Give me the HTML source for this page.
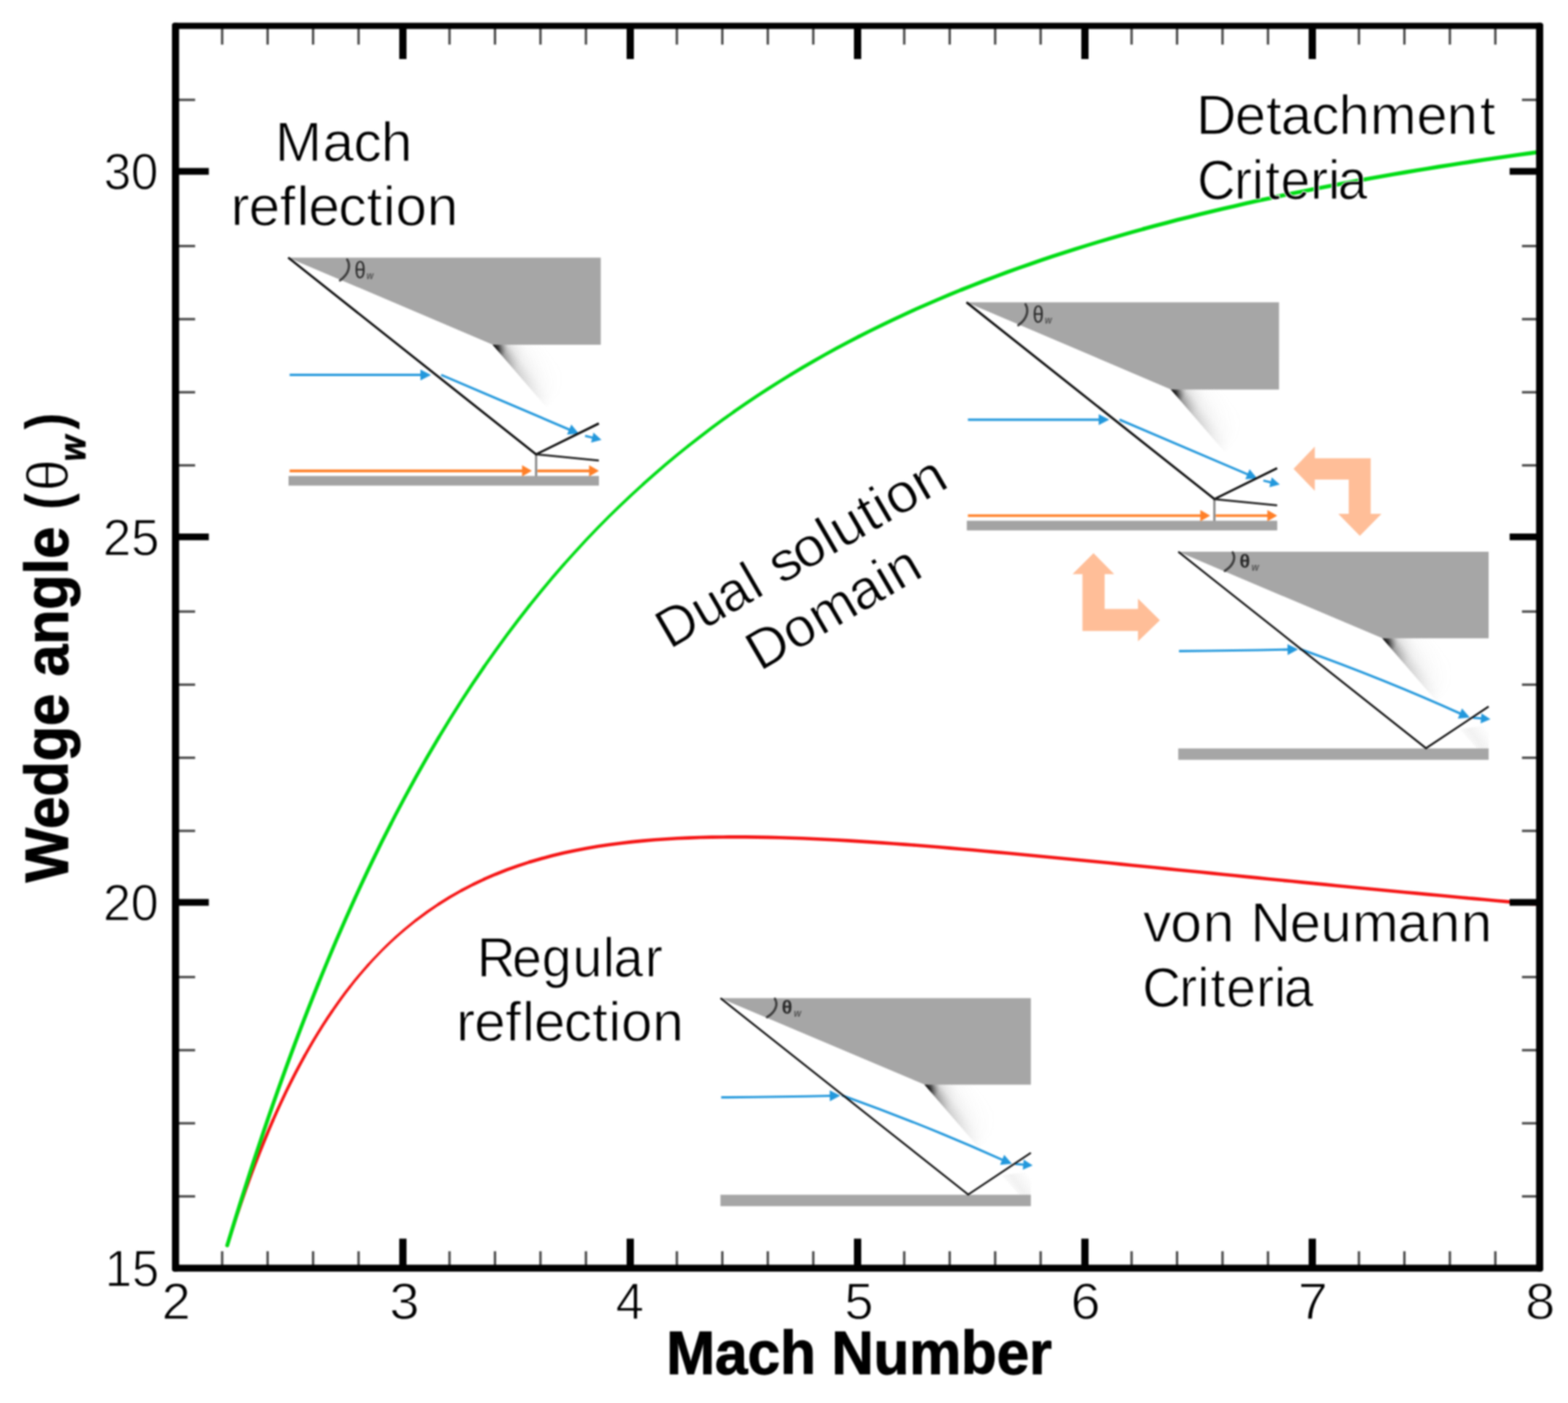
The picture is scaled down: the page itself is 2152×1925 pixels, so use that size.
<!DOCTYPE html>
<html lang="en">
<head>
<meta charset="utf-8">
<title>Shock reflection domains: wedge angle versus Mach number</title>
<style>
html,body{margin:0;padding:0;background:#fff;}
body{width:2152px;height:1925px;overflow:hidden;}
svg{display:block;font-family:'Liberation Sans', sans-serif;}
</style>
</head>
<body>
<svg width="2152" height="1925" viewBox="0 0 2152 1925">
<defs>
<filter id="soft" x="0" y="0" width="100%" height="100%" filterUnits="userSpaceOnUse" color-interpolation-filters="sRGB"><feGaussianBlur stdDeviation="0.8"/></filter>
<linearGradient id="fanA" gradientUnits="userSpaceOnUse" x1="0" y1="0" x2="40" y2="-35" gradientTransform="translate(281 119.6)">
<stop offset="0" stop-color="#111" stop-opacity="1"/><stop offset="0.1" stop-color="#222" stop-opacity="0.8"/><stop offset="0.3" stop-color="#555" stop-opacity="0.4"/><stop offset="0.6" stop-color="#888" stop-opacity="0.16"/><stop offset="1" stop-color="#999" stop-opacity="0"/>
</linearGradient>
<radialGradient id="fanR" gradientUnits="userSpaceOnUse" cx="281" cy="119.6" r="115">
<stop offset="0" stop-color="#fff"/><stop offset="0.07" stop-color="#fff"/><stop offset="0.18" stop-color="#777"/><stop offset="0.4" stop-color="#383838"/><stop offset="0.75" stop-color="#151515"/><stop offset="1" stop-color="#000"/>
</radialGradient>
<mask id="fanM" maskUnits="userSpaceOnUse" x="270" y="110" width="130" height="130"><rect x="270" y="110" width="130" height="130" fill="url(#fanR)"/></mask>
<linearGradient id="fanB" gradientUnits="userSpaceOnUse" x1="392" y1="262" x2="422" y2="240">
<stop offset="0" stop-color="#999" stop-opacity="0"/><stop offset="0.45" stop-color="#999" stop-opacity="0.13"/><stop offset="1" stop-color="#999" stop-opacity="0"/>
</linearGradient>
</defs>
<rect width="2152" height="1925" fill="#fff"/>
<g id="fig" filter="url(#soft)">
<g fill="none" stroke-linejoin="round" stroke-linecap="round">
<g stroke="#f51515"><polyline stroke-width="4.4" points="311.85,1708.87 318.09,1688.99 324.33,1669.79 330.57,1651.25 336.81,1633.33 343.05,1616.03 349.29,1599.32 355.53,1583.18 361.77,1567.59 368.01,1552.52 374.25,1537.97"/><polyline stroke-width="4.2" points="374.25,1537.97 380.49,1523.91 386.74,1510.33 392.98,1497.21 399.22,1484.53 405.46,1472.28 411.7,1460.45 417.94,1449.01"/><polyline stroke-width="4" points="417.94,1449.01 424.18,1437.96 430.42,1427.28 436.66,1416.96 442.9,1406.99 449.14,1397.36 455.38,1388.05"/><polyline stroke-width="3.8" points="455.38,1388.05 461.62,1379.05 467.86,1370.36 474.1,1361.96 480.35,1353.84"/><polyline stroke-width="3.6" points="480.35,1353.84 486.59,1345.99 492.83,1338.41 499.07,1331.09 505.31,1324.01"/><polyline stroke-width="3.4" points="505.31,1324.01 511.55,1317.17 517.79,1310.56 524.03,1304.17 530.27,1298 536.51,1292.04 542.75,1286.28"/><polyline stroke-width="3.6" points="542.75,1286.28 548.99,1280.72 555.23,1275.35 570.83,1262.7"/><polyline stroke-width="3.8" points="570.83,1262.7 586.44,1251.11 602.04,1240.49"/><polyline stroke-width="4" points="602.04,1240.49 617.64,1230.77 633.24,1221.88"/><polyline stroke-width="4.2" points="633.24,1221.88 648.84,1213.75 664.44,1206.34"/><polyline stroke-width="4.4" points="664.44,1206.34 680.05,1199.58 695.65,1193.42 711.25,1187.83 726.85,1182.76"/><polyline stroke-width="4.6" points="726.85,1182.76 742.45,1178.17 758.05,1174.02 773.66,1170.29 789.26,1166.95 804.86,1163.97 820.46,1161.32 836.06,1158.97 851.66,1156.92 867.27,1155.13 882.87,1153.59 898.47,1152.28 914.07,1151.18 929.67,1150.29 945.27,1149.58 960.88,1149.04 976.48,1148.67 992.08,1148.44 1007.68,1148.36 1023.28,1148.41 1038.88,1148.58 1054.49,1148.86 1070.09,1149.24 1085.69,1149.73 1101.29,1150.3 1116.89,1150.96 1132.49,1151.7 1148.1,1152.51 1163.7,1153.39 1179.3,1154.33 1194.9,1155.33 1210.5,1156.38 1226.11,1157.48 1241.71,1158.63 1257.31,1159.82 1272.91,1161.05 1288.51,1162.32 1304.11,1163.62 1319.71,1164.95 1335.32,1166.31 1350.92,1167.7 1366.52,1169.11 1382.12,1170.54 1397.72,1171.99 1413.33,1173.46 1428.93,1174.94 1444.53,1176.44 1460.13,1177.94 1475.73,1179.47 1491.33,1181 1506.93,1182.53 1522.54,1184.08 1538.14,1185.63 1553.74,1187.19 1569.34,1188.75 1584.94,1190.31 1600.54,1191.88 1616.15,1193.45 1631.75,1195.02 1647.35,1196.58 1662.95,1198.15 1678.55,1199.72 1694.15,1201.28 1709.76,1202.84 1725.36,1204.4 1740.96,1205.96 1756.56,1207.51 1772.16,1209.05 1787.76,1210.59 1803.37,1212.13 1818.97,1213.66 1834.57,1215.18 1850.17,1216.7 1865.77,1218.21 1881.37,1219.71 1896.98,1221.21 1912.58,1222.7 1928.18,1224.18 1943.78,1225.66 1959.38,1227.12 1974.98,1228.58 1990.59,1230.03 2006.19,1231.47 2021.79,1232.91 2037.39,1234.33 2052.99,1235.75 2068.6,1237.15 2084.2,1238.55 2099.8,1239.94 2115.4,1241.32"/></g>
<g stroke="#00dc14"><polyline stroke-width="5.2" points="311.85,1708.7 318.09,1688.22 324.33,1668.03 330.57,1648.12 336.81,1628.48 343.05,1609.13 349.29,1590.04 355.53,1571.23 361.77,1552.69 368.01,1534.41 374.25,1516.39 380.49,1498.64 386.74,1481.14 392.98,1463.89 399.22,1446.9 405.46,1430.16 411.7,1413.66 417.94,1397.4 424.18,1381.38 430.42,1365.6 436.66,1350.05"/><polyline stroke-width="5" points="436.66,1350.05 442.9,1334.72 449.14,1319.63 455.38,1304.76 461.62,1290.1 467.86,1275.67 474.1,1261.45 480.35,1247.43 486.59,1233.63 492.83,1220.03 499.07,1206.63 505.31,1193.43 511.55,1180.42 517.79,1167.61 524.03,1154.98 530.27,1142.54 536.51,1130.28"/><polyline stroke-width="4.8" points="536.51,1130.28 542.75,1118.21 548.99,1106.31 555.23,1094.58 570.83,1066.01 586.44,1038.48 602.04,1011.93"/><polyline stroke-width="4.6" points="602.04,1011.93 617.64,986.33 633.24,961.64 648.84,937.82 664.44,914.84"/><polyline stroke-width="4.4" points="664.44,914.84 680.05,892.67 695.65,871.26 711.25,850.59 726.85,830.63"/><polyline stroke-width="4.2" points="726.85,830.63 742.45,811.35 758.05,792.72 773.66,774.71"/><polyline stroke-width="4" points="773.66,774.71 789.26,757.31 804.86,740.48 820.46,724.2 836.06,708.45 851.66,693.21 867.27,678.45 882.87,664.17"/><polyline stroke-width="4.2" points="882.87,664.17 898.47,650.33 914.07,636.93 929.67,623.95 945.27,611.36"/><polyline stroke-width="4.4" points="945.27,611.36 960.88,599.16 976.48,587.33 992.08,575.85 1007.68,564.72"/><polyline stroke-width="4.6" points="1007.68,564.72 1023.28,553.91 1038.88,543.42 1054.49,533.24 1070.09,523.35 1085.69,513.74"/><polyline stroke-width="4.8" points="1085.69,513.74 1101.29,504.41 1116.89,495.33 1132.49,486.52 1148.1,477.94 1163.7,469.61 1179.3,461.5"/><polyline stroke-width="5" points="1179.3,461.5 1194.9,453.61 1210.5,445.93 1226.11,438.45 1241.71,431.18 1257.31,424.09 1272.91,417.19 1288.51,410.46 1304.11,403.91 1319.71,397.53"/><polyline stroke-width="5.2" points="1319.71,397.53 1335.32,391.31 1350.92,385.24 1366.52,379.32 1382.12,373.55 1397.72,367.92 1413.33,362.43 1428.93,357.07 1444.53,351.84 1460.13,346.74 1475.73,341.75 1491.33,336.88 1506.93,332.12 1522.54,327.48 1538.14,322.94 1553.74,318.5 1569.34,314.17"/><polyline stroke-width="5.4" points="1569.34,314.17 1584.94,309.93 1600.54,305.79 1616.15,301.73 1631.75,297.77 1647.35,293.9 1662.95,290.1 1678.55,286.39 1694.15,282.76 1709.76,279.21 1725.36,275.73 1740.96,272.33 1756.56,268.99 1772.16,265.73 1787.76,262.53 1803.37,259.39 1818.97,256.33 1834.57,253.32 1850.17,250.37 1865.77,247.48 1881.37,244.65 1896.98,241.88 1912.58,239.16 1928.18,236.49 1943.78,233.87 1959.38,231.31 1974.98,228.79 1990.59,226.32 2006.19,223.9 2021.79,221.52 2037.39,219.19 2052.99,216.9 2068.6,214.65 2084.2,212.44 2099.8,210.28 2115.4,208.15"/></g>
</g>
<g transform="translate(395.5 353.4)">
<polygon points="280,119.1 376,119.1 376,224.6 371,224.6" fill="url(#fanA)" mask="url(#fanM)"/>
<polygon fill="#a6a6a6" points="0,0 429,0 429,119.6 281,119.6"/>
<path d="M81 2.7 C85 9 85.5 21 71.2 31.4" fill="none" stroke="#3c3c3c" stroke-width="3.2" stroke-linecap="round"/>
<rect x="0.5" y="299.7" width="426" height="13.2" fill="#a3a3a3"/>
<line x1="2" y1="292.7" x2="322" y2="292.7" stroke="#ff7f27" stroke-width="3.6"/><polygon fill="#ff7f27" points="334.5,292.7 321,300.45 321,284.95"/>
<line x1="342" y1="292.7" x2="414" y2="292.7" stroke="#ff7f27" stroke-width="3.6"/><polygon fill="#ff7f27" points="426.5,292.7 413,300.45 413,284.95"/>
<line x1="340.3" y1="270" x2="340.3" y2="300" stroke="#858585" stroke-width="3"/>
<line x1="2" y1="161" x2="182.5" y2="161" stroke="#2398dc" stroke-width="3.2"/><polygon fill="#2398dc" points="196,161 181.5,168.5 181.5,153.5"/>
<line x1="210" y1="161" x2="386.58" y2="236.3" stroke="#2398dc" stroke-width="3.2"/><polygon fill="#2398dc" points="399,241.6 382.72,242.81 388.6,229.01"/>
<line x1="407.5" y1="244.6" x2="418.33" y2="247.2" stroke="#2398dc" stroke-width="3"/><polygon fill="#2398dc" points="430,250 415.73,253.77 418.99,240.16"/>
<g stroke="#0c0c0c" stroke-width="3.1" fill="none" stroke-linecap="butt" stroke-linejoin="miter">
<polyline points="0,0 340.3,270 426.4,227.6"/>
<line x1="340.3" y1="270" x2="426.4" y2="278.5" stroke-width="2.7" stroke="#222"/>
</g>
</g>
<g transform="translate(1326.4 414.8)">
<polygon points="280,119.1 376,119.1 376,224.6 371,224.6" fill="url(#fanA)" mask="url(#fanM)"/>
<polygon fill="#a6a6a6" points="0,0 429,0 429,119.6 281,119.6"/>
<path d="M81 2.7 C85 9 85.5 21 71.2 31.4" fill="none" stroke="#3c3c3c" stroke-width="3.2" stroke-linecap="round"/>
<rect x="0.5" y="299.7" width="426" height="13.2" fill="#a3a3a3"/>
<line x1="2" y1="292.7" x2="322" y2="292.7" stroke="#ff7f27" stroke-width="3.6"/><polygon fill="#ff7f27" points="334.5,292.7 321,300.45 321,284.95"/>
<line x1="342" y1="292.7" x2="414" y2="292.7" stroke="#ff7f27" stroke-width="3.6"/><polygon fill="#ff7f27" points="426.5,292.7 413,300.45 413,284.95"/>
<line x1="340.3" y1="270" x2="340.3" y2="300" stroke="#858585" stroke-width="3"/>
<line x1="2" y1="161" x2="182.5" y2="161" stroke="#2398dc" stroke-width="3.2"/><polygon fill="#2398dc" points="196,161 181.5,168.5 181.5,153.5"/>
<line x1="210" y1="161" x2="386.58" y2="236.3" stroke="#2398dc" stroke-width="3.2"/><polygon fill="#2398dc" points="399,241.6 382.72,242.81 388.6,229.01"/>
<line x1="407.5" y1="244.6" x2="418.33" y2="247.2" stroke="#2398dc" stroke-width="3"/><polygon fill="#2398dc" points="430,250 415.73,253.77 418.99,240.16"/>
<g stroke="#0c0c0c" stroke-width="3.1" fill="none" stroke-linecap="butt" stroke-linejoin="miter">
<polyline points="0,0 340.3,270 426.4,227.6"/>
<line x1="340.3" y1="270" x2="426.4" y2="278.5" stroke-width="2.7" stroke="#222"/>
</g>
</g>
<g transform="translate(1617.1 757.1)">
<polygon points="386,243 426,238 426,269.8 410,269.8" fill="url(#fanB)"/>
<polygon points="279.5,118.2 375.5,118.2 375.5,223.7 370.5,223.7" fill="url(#fanA)" mask="url(#fanM)"/>
<polygon fill="#a6a6a6" points="0,0 426,0 426,118.7 280.5,118.7"/>
<path d="M74.7 0.8 C78.2 6.5 78.5 17 63.9 26.2" fill="none" stroke="#3c3c3c" stroke-width="3.2" stroke-linecap="round"/>
<rect x="0" y="269.8" width="426" height="15.6" fill="#a6a6a6"/>
<path d="M1 136.2 Q 80 135.5 152 134" fill="none" stroke="#2398dc" stroke-width="3.2"/>
<polygon fill="#2398dc" points="164.5,133.8 150.12,141.54 149.88,126.54"/>
<path d="M166.5 133.2 Q 285 175.8 388 222.4" fill="none" stroke="#2398dc" stroke-width="3.2"/>
<polygon fill="#2398dc" points="400,227.3 383.75,228.81 389.38,214.91"/>
<line x1="404.5" y1="227.6" x2="416.54" y2="228.6" stroke="#2398dc" stroke-width="3"/><polygon fill="#2398dc" points="428.5,229.6 414.96,235.5 416.13,221.54"/>
<polyline points="0,0 340,269.5 426,212.3" stroke="#0c0c0c" stroke-width="2.5" fill="none"/>
</g>
<g transform="translate(988.8 1369.5)">
<polygon points="386,243 426,238 426,269.8 410,269.8" fill="url(#fanB)"/>
<polygon points="279.5,118.2 375.5,118.2 375.5,223.7 370.5,223.7" fill="url(#fanA)" mask="url(#fanM)"/>
<polygon fill="#a6a6a6" points="0,0 426,0 426,118.7 280.5,118.7"/>
<path d="M74.7 0.8 C78.2 6.5 78.5 17 63.9 26.2" fill="none" stroke="#3c3c3c" stroke-width="3.2" stroke-linecap="round"/>
<rect x="0" y="269.8" width="426" height="15.6" fill="#a6a6a6"/>
<path d="M1 136.2 Q 80 135.5 152 134" fill="none" stroke="#2398dc" stroke-width="3.2"/>
<polygon fill="#2398dc" points="164.5,133.8 150.12,141.54 149.88,126.54"/>
<path d="M166.5 133.2 Q 285 175.8 388 222.4" fill="none" stroke="#2398dc" stroke-width="3.2"/>
<polygon fill="#2398dc" points="400,227.3 383.75,228.81 389.38,214.91"/>
<line x1="404.5" y1="227.6" x2="416.54" y2="228.6" stroke="#2398dc" stroke-width="3"/><polygon fill="#2398dc" points="428.5,229.6 414.96,235.5 416.13,221.54"/>
<polyline points="0,0 340,269.5 426,212.3" stroke="#0c0c0c" stroke-width="2.5" fill="none"/>
</g>
<polygon fill="#ffbe98" points="1775.3,643.3 1804.5,612.8 1804.5,628.7 1881.2,628.7 1881.2,705.1 1896,705.1 1866.3,735.2 1836.7,705.1 1851.1,705.1 1851.1,658.1 1804.5,658.1 1804.5,673.4"/>
<polygon fill="#ffbe98" points="1500.8,759 1529.2,787.8 1516.1,787.8 1516.1,835.6 1561.8,835.6 1561.8,821.2 1591.9,850.9 1561.8,880.1 1561.8,865.7 1485.6,865.7 1485.6,787.8 1472,787.8"/>
<g stroke="#4a4a4a" stroke-width="3.3">
<line x1="304.91" y1="38.5" x2="304.91" y2="61.2"/>
<line x1="304.91" y1="1737" x2="304.91" y2="1716.8"/>
<line x1="367.31" y1="38.5" x2="367.31" y2="61.2"/>
<line x1="367.31" y1="1737" x2="367.31" y2="1716.8"/>
<line x1="429.72" y1="38.5" x2="429.72" y2="61.2"/>
<line x1="429.72" y1="1737" x2="429.72" y2="1716.8"/>
<line x1="492.13" y1="38.5" x2="492.13" y2="61.2"/>
<line x1="492.13" y1="1737" x2="492.13" y2="1716.8"/>
<line x1="616.94" y1="38.5" x2="616.94" y2="61.2"/>
<line x1="616.94" y1="1737" x2="616.94" y2="1716.8"/>
<line x1="679.35" y1="38.5" x2="679.35" y2="61.2"/>
<line x1="679.35" y1="1737" x2="679.35" y2="1716.8"/>
<line x1="741.75" y1="38.5" x2="741.75" y2="61.2"/>
<line x1="741.75" y1="1737" x2="741.75" y2="1716.8"/>
<line x1="804.16" y1="38.5" x2="804.16" y2="61.2"/>
<line x1="804.16" y1="1737" x2="804.16" y2="1716.8"/>
<line x1="928.97" y1="38.5" x2="928.97" y2="61.2"/>
<line x1="928.97" y1="1737" x2="928.97" y2="1716.8"/>
<line x1="991.38" y1="38.5" x2="991.38" y2="61.2"/>
<line x1="991.38" y1="1737" x2="991.38" y2="1716.8"/>
<line x1="1053.79" y1="38.5" x2="1053.79" y2="61.2"/>
<line x1="1053.79" y1="1737" x2="1053.79" y2="1716.8"/>
<line x1="1116.19" y1="38.5" x2="1116.19" y2="61.2"/>
<line x1="1116.19" y1="1737" x2="1116.19" y2="1716.8"/>
<line x1="1241.01" y1="38.5" x2="1241.01" y2="61.2"/>
<line x1="1241.01" y1="1737" x2="1241.01" y2="1716.8"/>
<line x1="1303.41" y1="38.5" x2="1303.41" y2="61.2"/>
<line x1="1303.41" y1="1737" x2="1303.41" y2="1716.8"/>
<line x1="1365.82" y1="38.5" x2="1365.82" y2="61.2"/>
<line x1="1365.82" y1="1737" x2="1365.82" y2="1716.8"/>
<line x1="1428.23" y1="38.5" x2="1428.23" y2="61.2"/>
<line x1="1428.23" y1="1737" x2="1428.23" y2="1716.8"/>
<line x1="1553.04" y1="38.5" x2="1553.04" y2="61.2"/>
<line x1="1553.04" y1="1737" x2="1553.04" y2="1716.8"/>
<line x1="1615.45" y1="38.5" x2="1615.45" y2="61.2"/>
<line x1="1615.45" y1="1737" x2="1615.45" y2="1716.8"/>
<line x1="1677.85" y1="38.5" x2="1677.85" y2="61.2"/>
<line x1="1677.85" y1="1737" x2="1677.85" y2="1716.8"/>
<line x1="1740.26" y1="38.5" x2="1740.26" y2="61.2"/>
<line x1="1740.26" y1="1737" x2="1740.26" y2="1716.8"/>
<line x1="1865.07" y1="38.5" x2="1865.07" y2="61.2"/>
<line x1="1865.07" y1="1737" x2="1865.07" y2="1716.8"/>
<line x1="1927.48" y1="38.5" x2="1927.48" y2="61.2"/>
<line x1="1927.48" y1="1737" x2="1927.48" y2="1716.8"/>
<line x1="1989.89" y1="38.5" x2="1989.89" y2="61.2"/>
<line x1="1989.89" y1="1737" x2="1989.89" y2="1716.8"/>
<line x1="2052.29" y1="38.5" x2="2052.29" y2="61.2"/>
<line x1="2052.29" y1="1737" x2="2052.29" y2="1716.8"/>
<line x1="243.9" y1="1641.5" x2="267.8" y2="1641.5"/>
<line x1="2110.1" y1="1641.5" x2="2088.8" y2="1641.5"/>
<line x1="243.9" y1="1541.2" x2="267.8" y2="1541.2"/>
<line x1="2110.1" y1="1541.2" x2="2088.8" y2="1541.2"/>
<line x1="243.9" y1="1440.9" x2="267.8" y2="1440.9"/>
<line x1="2110.1" y1="1440.9" x2="2088.8" y2="1440.9"/>
<line x1="243.9" y1="1340.6" x2="267.8" y2="1340.6"/>
<line x1="2110.1" y1="1340.6" x2="2088.8" y2="1340.6"/>
<line x1="243.9" y1="1140" x2="267.8" y2="1140"/>
<line x1="2110.1" y1="1140" x2="2088.8" y2="1140"/>
<line x1="243.9" y1="1039.7" x2="267.8" y2="1039.7"/>
<line x1="2110.1" y1="1039.7" x2="2088.8" y2="1039.7"/>
<line x1="243.9" y1="939.4" x2="267.8" y2="939.4"/>
<line x1="2110.1" y1="939.4" x2="2088.8" y2="939.4"/>
<line x1="243.9" y1="839.1" x2="267.8" y2="839.1"/>
<line x1="2110.1" y1="839.1" x2="2088.8" y2="839.1"/>
<line x1="243.9" y1="638.5" x2="267.8" y2="638.5"/>
<line x1="2110.1" y1="638.5" x2="2088.8" y2="638.5"/>
<line x1="243.9" y1="538.2" x2="267.8" y2="538.2"/>
<line x1="2110.1" y1="538.2" x2="2088.8" y2="538.2"/>
<line x1="243.9" y1="437.9" x2="267.8" y2="437.9"/>
<line x1="2110.1" y1="437.9" x2="2088.8" y2="437.9"/>
<line x1="243.9" y1="337.6" x2="267.8" y2="337.6"/>
<line x1="2110.1" y1="337.6" x2="2088.8" y2="337.6"/>
<line x1="243.9" y1="137" x2="267.8" y2="137"/>
<line x1="2110.1" y1="137" x2="2088.8" y2="137"/>
</g>
<g stroke="#000" stroke-width="10">
<line x1="552.93" y1="35.5" x2="552.93" y2="81"/>
<line x1="552.93" y1="1740" x2="552.93" y2="1699.5"/>
<line x1="864.97" y1="35.5" x2="864.97" y2="81"/>
<line x1="864.97" y1="1740" x2="864.97" y2="1699.5"/>
<line x1="1177" y1="35.5" x2="1177" y2="81"/>
<line x1="1177" y1="1740" x2="1177" y2="1699.5"/>
<line x1="1489.03" y1="35.5" x2="1489.03" y2="81"/>
<line x1="1489.03" y1="1740" x2="1489.03" y2="1699.5"/>
<line x1="1801.07" y1="35.5" x2="1801.07" y2="81"/>
<line x1="1801.07" y1="1740" x2="1801.07" y2="1699.5"/>
</g>
<g stroke="#000" stroke-width="9.2">
<line x1="240.9" y1="1238.1" x2="286.6" y2="1238.1"/>
<line x1="2113.1" y1="1238.1" x2="2071.9" y2="1238.1"/>
<line x1="240.9" y1="736.6" x2="286.6" y2="736.6"/>
<line x1="2113.1" y1="736.6" x2="2071.9" y2="736.6"/>
<line x1="240.9" y1="235.1" x2="286.6" y2="235.1"/>
<line x1="2113.1" y1="235.1" x2="2071.9" y2="235.1"/>
</g>
<g fill="#000">
<rect x="236" y="31.3" width="1882" height="8.4" rx="4"/>
<rect x="236" y="1735.3" width="1882" height="9.4" rx="4"/>
<rect x="236" y="31.3" width="9.8" height="1713.4" rx="4"/>
<rect x="2108.2" y="31.3" width="9.8" height="1713.4" rx="4"/>
</g>
<g id="labels" fill="#000">
<text transform="translate(142.43 260.1) scale(0.9617 1)" font-size="70" stroke="#fff" stroke-width="1.3" stroke-linejoin="round">30</text>
<text transform="translate(141.36 761.6) scale(0.9954 1)" font-size="70" stroke="#fff" stroke-width="1.3" stroke-linejoin="round">25</text>
<text transform="translate(141.41 1263.1) scale(0.9804 1)" font-size="70" stroke="#fff" stroke-width="1.3" stroke-linejoin="round">20</text>
<text transform="translate(144.09 1764.6) scale(0.9524 1)" font-size="70" stroke="#fff" stroke-width="1.3" stroke-linejoin="round">15</text>
<text transform="translate(222 1809.8) scale(1.0182 1)" font-size="70" stroke="#fff" stroke-width="1.3" stroke-linejoin="round">2</text>
<text transform="translate(534.53 1809.8) scale(1.0588 1)" font-size="70" stroke="#fff" stroke-width="1.3" stroke-linejoin="round">3</text>
<text transform="translate(845.05 1809.8) scale(0.9972 1)" font-size="70" stroke="#fff" stroke-width="1.3" stroke-linejoin="round">4</text>
<text transform="translate(1158.91 1809.8) scale(1.0206 1)" font-size="70" stroke="#fff" stroke-width="1.3" stroke-linejoin="round">5</text>
<text transform="translate(1469.45 1809.8) scale(1.0455 1)" font-size="70" stroke="#fff" stroke-width="1.3" stroke-linejoin="round">6</text>
<text transform="translate(1781.48 1809.8) scale(1.0455 1)" font-size="70" stroke="#fff" stroke-width="1.3" stroke-linejoin="round">7</text>
<text transform="translate(2093.18 1809.8) scale(1.0576 1)" font-size="70" stroke="#fff" stroke-width="1.3" stroke-linejoin="round">8</text>
<text transform="translate(914.44 1885) scale(0.9620 1)" font-size="83.5" font-weight="bold" stroke="#000" stroke-width="1.3" stroke-linejoin="miter">Mach</text>
<text transform="translate(1141.26 1885) scale(0.9584 1)" font-size="83.5" font-weight="bold" stroke="#000" stroke-width="1.3" stroke-linejoin="miter">Number</text>
<text transform="translate(0 221.4) scale(1.0132 1)" x="372.64 437 479.03 516.21" font-size="76" stroke="#fff" stroke-width="1.1" stroke-linejoin="round">Mach</text>
<text transform="translate(0 309.3) scale(1.0123 1)" x="312.83 337.41 379.29 402.29 418.41 458.78 497.09 519.31 536.43 578.94" font-size="76" stroke="#fff" stroke-width="1.1" stroke-linejoin="round">reflection</text>
<text transform="translate(0 184.1) scale(1.0021 1)" x="1638.27 1691.45 1734.12 1754.25 1796.36 1833.74 1876.62 1940.13 1981.5 2026.92" font-size="76" stroke="#fff" stroke-width="1.1" stroke-linejoin="round">Detachment</text>
<text transform="translate(0 272.9) scale(0.9520 1)" x="1726.2 1779.33 1804.97 1823.93 1846.39 1889.21 1914.85 1928.86" font-size="76" stroke="#fff" stroke-width="1.1" stroke-linejoin="round">Criteria</text>
<text transform="translate(0 1339.6) scale(0.9575 1)" x="683.76 734.18 776.64 820.9 864.32 879.71 924.6" font-size="76" stroke="#fff" stroke-width="1.1" stroke-linejoin="round">Regular</text>
<text transform="translate(0 1428) scale(1.0123 1)" x="618.56 643.14 685.01 708.02 724.14 764.51 802.82 825.04 842.16 884.67" font-size="76" stroke="#fff" stroke-width="1.1" stroke-linejoin="round">reflection</text>
<text transform="translate(0 1291.6) scale(1.0231 1)" x="1533.23 1570.09 1613.49" font-size="76" stroke="#fff" stroke-width="1.1" stroke-linejoin="round">von</text>
<text transform="translate(0 1291.6) scale(1.0051 1)" x="1707.77 1761.31 1803.34 1846.27 1908.52 1951.67 1995.03" font-size="76" stroke="#fff" stroke-width="1.1" stroke-linejoin="round">Neumann</text>
<text transform="translate(0 1380.5) scale(0.9582 1)" x="1636.35 1689.48 1715.12 1734.08 1756.55 1799.36 1825 1839.01" font-size="76" stroke="#fff" stroke-width="1.1" stroke-linejoin="round">Criteria</text>
<text transform="translate(924.9 888.2) rotate(-30.2) translate(0 0) scale(0.9806 1)" x="-6.56 48.56 89.36 132.86" font-size="76" stroke="#fff" stroke-width="1.1" stroke-linejoin="round">Dual</text>
<text transform="translate(924.9 888.2) rotate(-30.2) translate(0 0) scale(1.0290 1)" x="165.59 199.8 242.58 259.79 303.38 325.61 342.75 385.28" font-size="76" stroke="#fff" stroke-width="1.1" stroke-linejoin="round">solution</text>
<text transform="translate(1048.7 918.4) rotate(-30.2) translate(0 0) scale(1.0019 1)" x="-6.55 47.62 90.63 152.72 195.73 213.06" font-size="76" stroke="#fff" stroke-width="1.1" stroke-linejoin="round">Domain</text>
<text transform="translate(93.1 1211.4) rotate(-90) translate(0.65 0) scale(0.9509 1)" font-size="83.5" font-weight="bold" stroke="#000" stroke-width="1.3" stroke-linejoin="miter">Wedge</text>
<text transform="translate(93.1 1211.4) rotate(-90) translate(283.06 0) scale(0.9431 1)" font-size="83.5" font-weight="bold" stroke="#000" stroke-width="1.3" stroke-linejoin="miter">angle</text>
<text transform="translate(93.1 1211.4) rotate(-90) translate(512.48 -1.5) scale(0.8042 1)" font-size="82" font-weight="bold">(</text>
<text transform="translate(93.1 1211.4) rotate(-90) translate(537.34 0) scale(0.9892 1)" font-size="80" stroke="#fff" stroke-width="1.6" stroke-linejoin="round">θ</text>
<text transform="translate(93.1 1211.4) rotate(-90) translate(578.74 23.5) scale(0.8805 1)" font-size="51" font-weight="bold" font-style="italic" stroke="#000" stroke-width="1" stroke-linejoin="miter">w</text>
<text transform="translate(93.1 1211.4) rotate(-90) translate(622.1 -1.5) scale(0.8333 1)" font-size="82" font-weight="bold">)</text>
<text transform="translate(486.46 382) scale(0.8375 1)" font-size="33" fill="#2a2a2a">θ</text>
<text transform="translate(503 382.6) scale(0.8750 1)" font-size="14" font-weight="bold" font-style="italic" fill="#555">w</text>
<text transform="translate(1417.36 443.4) scale(0.8375 1)" font-size="33" fill="#2a2a2a">θ</text>
<text transform="translate(1433.9 444) scale(0.8750 1)" font-size="14" font-weight="bold" font-style="italic" fill="#555">w</text>
<text transform="translate(1700.97 778.9) scale(1.0308 1)" font-size="26.5" font-weight="bold" fill="#2a2a2a">θ</text>
<text transform="translate(1717.7 782.6) scale(0.9167 1)" font-size="14" font-weight="bold" font-style="italic" fill="#555">w</text>
<text transform="translate(1072.67 1391.3) scale(1.0308 1)" font-size="26.5" font-weight="bold" fill="#2a2a2a">θ</text>
<text transform="translate(1089.4 1395) scale(0.9167 1)" font-size="14" font-weight="bold" font-style="italic" fill="#555">w</text>
</g>
</g>
</svg>
</body>
</html>
